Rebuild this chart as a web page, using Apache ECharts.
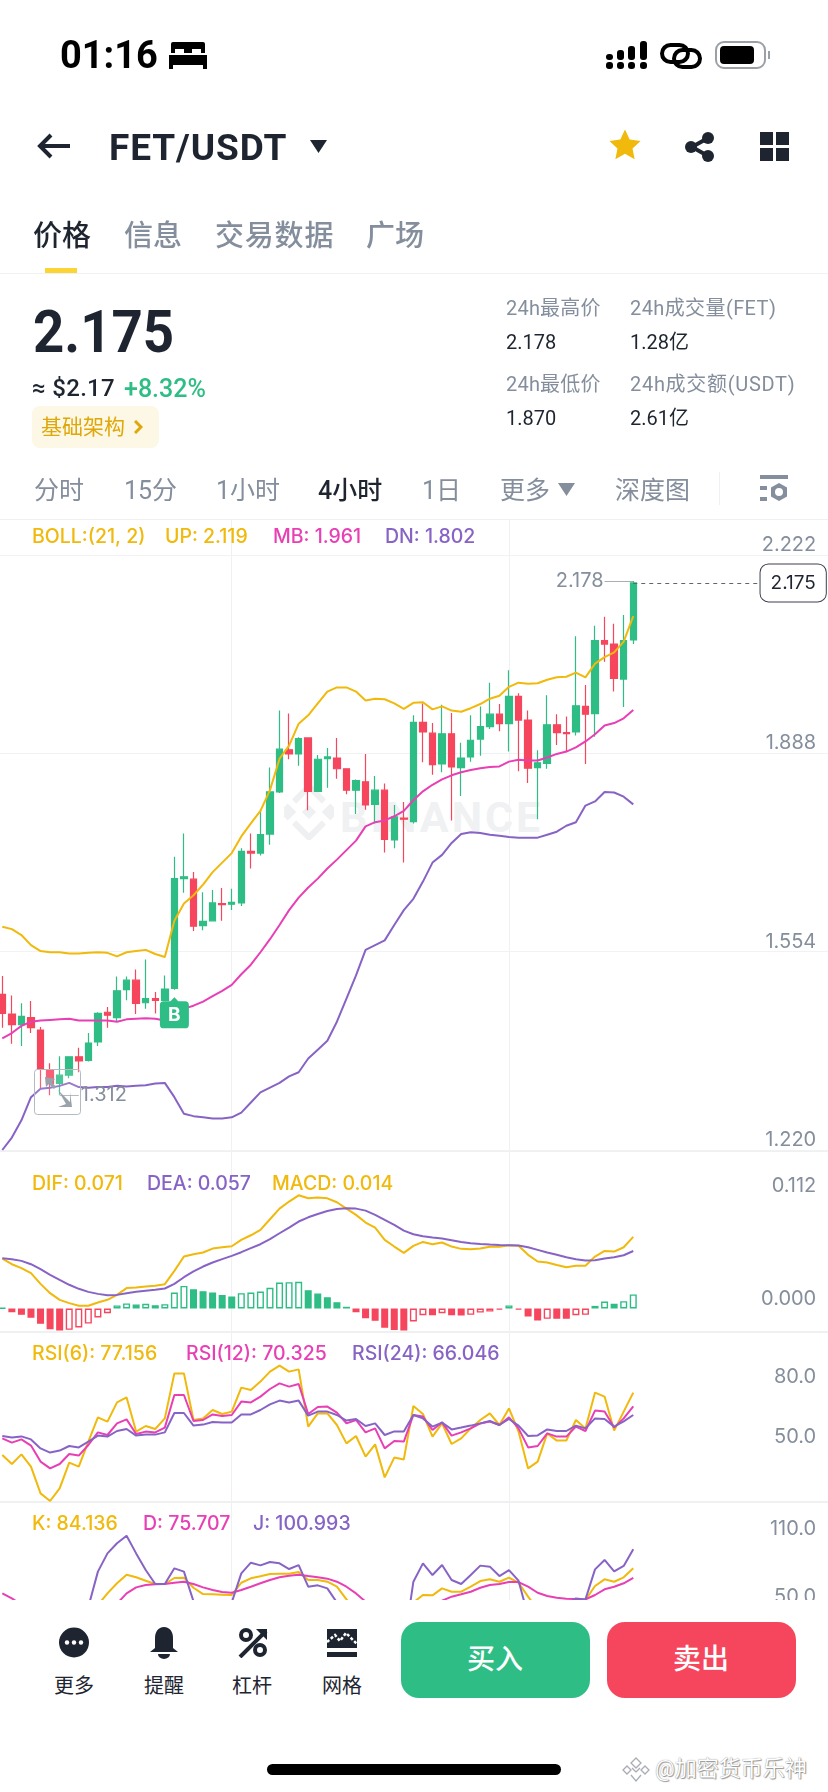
<!DOCTYPE html>
<html lang="zh">
<head>
<meta charset="UTF-8">
<title>FET/USDT</title>
<script src="https://cdn.jsdelivr.net/npm/echarts@6/dist/echarts.min.js"></script>
<style>
html,body{margin:0;padding:0;background:#fff;width:828px;height:1792px;overflow:hidden;font-family:Roboto,"Noto Sans CJK SC",sans-serif;color:#1e2530}
.t{position:absolute;white-space:nowrap;line-height:1;transform:translateY(-50%)}
.c{transform:translate(-50%,-50%)}
.g{color:#848e9c}
svg{position:absolute;display:block}
#main{position:absolute;left:0;top:0;width:828px;height:1600px;z-index:1}
.ui{position:absolute;z-index:2}
</style>
</head>
<body>
<!-- watermark sits under the transparent canvas -->
<svg style="left:284px;top:780px" width="50" height="60" viewBox="0 0 50 60"><g fill="#eef0f1" transform="translate(25 32) rotate(45)"><rect x="-5" y="-5" width="10" height="10"/><path d="M-21 -21h24v6h-18v18h-6zM21 21h-24v-6h18v-18h6z"/><rect x="9" y="-21" width="12" height="12" /><rect x="-21" y="9" width="12" height="12"/></g></svg>
<div class="t" style="left:340px;top:817px;font-size:43px;font-weight:700;color:#f0f1f2;letter-spacing:3px">BINANCE</div>

<div id="main"></div>

<!-- status bar -->
<div class="t ui" style="left:60px;top:55px;font-size:38px;font-weight:700;color:#000">01:16</div>
<svg class="ui" style="left:169px;top:42px" width="38" height="27" viewBox="0 0 38 27"><path d="M4 0h30a2 2 0 0 1 2 2v9h-4V7h-9v4H15V7H6v4H2V2a2 2 0 0 1 2-2zM0 13h38v14h-4v-4H4v4H0z" fill="#000"/></svg>
<svg class="ui" style="left:606px;top:41px" width="42" height="28" viewBox="0 0 42 28" fill="#000"><rect x="0" y="13" width="7" height="6" rx="3"/><rect x="0" y="21" width="7" height="7" rx="3"/><rect x="11" y="9" width="7" height="10" rx="3"/><rect x="11" y="21" width="7" height="7" rx="3"/><rect x="22" y="5" width="7" height="14" rx="3"/><rect x="22" y="21" width="7" height="7" rx="3"/><rect x="34" y="0" width="7" height="19" rx="3"/><rect x="34" y="21" width="7" height="7" rx="3"/></svg>
<svg class="ui" style="left:660px;top:43px" width="42" height="26" viewBox="0 0 42 26" fill="none" stroke="#000" stroke-width="4"><rect x="2" y="2" width="26" height="17" rx="8.5"/><rect x="14" y="7" width="26" height="17" rx="8.5"/></svg>
<svg class="ui" style="left:715px;top:41px" width="56" height="28" viewBox="0 0 56 28"><rect x="1" y="1" width="49" height="26" rx="8" fill="none" stroke="#9aa0a6" stroke-width="2"/><rect x="5" y="5" width="34" height="18" rx="4" fill="#000"/><rect x="53" y="10" width="2" height="8" fill="#9aa0a6"/></svg>

<!-- title row -->
<svg class="ui" style="left:37px;top:133px" width="34" height="26" viewBox="0 0 34 26" fill="none" stroke="#1e2530" stroke-width="4"><path d="M33 13H4M14 2L3 13l11 11"/></svg>
<div class="t ui" style="left:109px;top:147px;font-size:37px;font-weight:700;letter-spacing:.9px">FET/USDT</div>
<svg class="ui" style="left:310px;top:140px" width="17" height="13" viewBox="0 0 17 13"><path d="M0 0h17L8.500 13z" fill="#1e2530"/></svg>
<svg class="ui" style="left:608px;top:128px" width="34" height="34" viewBox="0 0 24 24"><path d="M12 1l3.300 7.200 7.700.9-5.700 5.300 1.500 7.600L12 18.200 5.200 22l1.500-7.600L1 9.100l7.700-.9z" fill="#f0b90b"/></svg>
<svg class="ui" style="left:684px;top:131px" width="32" height="32" viewBox="0 0 32 32"><path d="M24 7L8 16l16 9" stroke="#1e2530" stroke-width="4" fill="none"/><circle cx="24" cy="7" r="6" fill="#1e2530"/><circle cx="7" cy="16" r="6" fill="#1e2530"/><circle cx="24" cy="25" r="6" fill="#1e2530"/></svg>
<svg class="ui" style="left:760px;top:132px" width="29" height="29" viewBox="0 0 29 29" fill="#1e2530"><rect width="13" height="13"/><rect x="16" width="13" height="13"/><rect y="16" width="13" height="13"/><rect x="16" y="16" width="13" height="13"/></svg>

<!-- tabs -->
<div class="t ui" style="left:33px;top:236px;font-size:29px;font-weight:500">价格</div>
<div class="t ui g" style="left:124px;top:236px;font-size:29px;font-weight:500">信息</div>
<div class="t ui g" style="left:215px;top:236px;font-size:29px;font-weight:500;letter-spacing:.8px">交易数据</div>
<div class="t ui g" style="left:366px;top:236px;font-size:29px;font-weight:500">广场</div>
<div class="ui" style="left:45px;top:268px;width:32px;height:5px;background:#fcd535"></div>
<div class="ui" style="left:0;top:273px;width:828px;height:1px;background:#f0f1f2"></div>

<!-- price block -->
<div class="t ui" style="left:33px;top:332px;font-size:60px;font-weight:700;transform:translateY(-50%) scaleX(.91);transform-origin:left center">2.175</div>
<div class="t ui" style="left:32px;top:388px;font-size:24px;font-weight:500;letter-spacing:.3px">≈ $2.17</div>
<div class="t ui" style="left:124px;top:388px;font-size:25px;font-weight:500;color:#2ebd85">+8.32%</div>
<div class="ui" style="left:32px;top:406px;width:127px;height:42px;border-radius:8px;background:#fdf7e5"></div>
<div class="t ui" style="left:41px;top:427px;font-size:21px;color:#dfa80a">基础架构</div>
<svg class="ui" style="left:134px;top:420px" width="9" height="14" viewBox="0 0 9 14" fill="none" stroke="#dfa80a" stroke-width="3"><path d="M1 1l6 6-6 6"/></svg>
<div class="t ui g" style="left:506px;top:308px;font-size:20px;letter-spacing:.2px">24h最高价</div>
<div class="t ui g" style="left:630px;top:308px;font-size:20px;letter-spacing:.4px">24h成交量(FET)</div>
<div class="t ui" style="left:506px;top:342px;font-size:20px">2.178</div>
<div class="t ui" style="left:630px;top:342px;font-size:20px">1.28亿</div>
<div class="t ui g" style="left:506px;top:384px;font-size:20px;letter-spacing:.2px">24h最低价</div>
<div class="t ui g" style="left:630px;top:384px;font-size:20px;letter-spacing:.7px">24h成交额(USDT)</div>
<div class="t ui" style="left:506px;top:418px;font-size:20px">1.870</div>
<div class="t ui" style="left:630px;top:418px;font-size:20px">2.61亿</div>

<!-- interval row -->
<div class="t ui g" style="left:34px;top:490px;font-size:25px">分时</div>
<div class="t ui g" style="left:124px;top:490px;font-size:25px">15分</div>
<div class="t ui g" style="left:216px;top:490px;font-size:25px">1小时</div>
<div class="t ui" style="left:318px;top:490px;font-size:25px;font-weight:500">4小时</div>
<div class="t ui g" style="left:422px;top:490px;font-size:25px">1日</div>
<div class="t ui g" style="left:500px;top:490px;font-size:25px">更多</div>
<svg class="ui" style="left:558px;top:483px" width="17" height="13" viewBox="0 0 17 13"><path d="M0 0h17L8.500 13z" fill="#848e9c"/></svg>
<div class="t ui g" style="left:615px;top:490px;font-size:25px">深度图</div>
<div class="ui" style="left:719px;top:472px;width:1px;height:33px;background:#eef0f2"></div>
<svg class="ui" style="left:760px;top:475px" width="28" height="28" viewBox="0 0 28 28" fill="#848e9c"><rect width="28" height="4"/><rect y="11" width="7" height="4"/><rect y="22" width="7" height="4"/><path d="M19 8l8 4.500v9L19 26l-8-4.500v-9zM19 13a4 4 0 1 0 0 8 4 4 0 0 0 0-8z" fill-rule="evenodd"/></svg>

<!-- bottom bar -->
<svg class="ui" style="left:59px;top:1627px" width="30" height="31" viewBox="0 0 30 31"><circle cx="15" cy="15.500" r="15" fill="#1e2530"/><circle cx="8" cy="15.500" r="2.200" fill="#fff"/><circle cx="15" cy="15.500" r="2.200" fill="#fff"/><circle cx="22" cy="15.500" r="2.200" fill="#fff"/></svg>
<svg class="ui" style="left:149px;top:1627px" width="30" height="32" viewBox="0 0 30 32" fill="#1e2530"><path d="M15 0c6 0 9 5 9 11v10l5 4H1l5-4V11C6 5 9 0 15 0z"/><path d="M9 27h12a6 5 0 0 1-12 0z"/></svg>
<svg class="ui" style="left:238px;top:1627px" width="30" height="31" viewBox="0 0 30 31" fill="none" stroke="#1e2530"><circle cx="8" cy="8" r="5" stroke-width="4"/><circle cx="22" cy="23" r="5" stroke-width="4"/><path d="M2 30L28 4" stroke-width="4"/><path d="M18 2h11v11z" fill="#1e2530" stroke="none"/></svg>
<svg class="ui" style="left:327px;top:1629px" width="30" height="28" viewBox="0 0 30 28" fill="#1e2530"><path d="M0 0h30v19H0z"/><path d="M0 13l8-7 5 6 6-8 11 11" fill="none" stroke="#fff" stroke-width="2.500" stroke-dasharray="3 2"/><rect y="23" width="30" height="5"/></svg>
<div class="t c ui" style="left:74px;top:1686px;font-size:20px">更多</div>
<div class="t c ui" style="left:164px;top:1686px;font-size:20px">提醒</div>
<div class="t c ui" style="left:252px;top:1686px;font-size:20px">杠杆</div>
<div class="t c ui" style="left:342px;top:1686px;font-size:20px">网格</div>
<div class="ui" style="left:401px;top:1622px;width:189px;height:76px;border-radius:18px;background:#2ebd85"></div>
<div class="ui" style="left:607px;top:1622px;width:189px;height:76px;border-radius:18px;background:#f6465d"></div>
<div class="t c ui" style="left:495px;top:1660px;font-size:28px;font-weight:500;color:#fff">买入</div>
<div class="t c ui" style="left:701px;top:1660px;font-size:28px;font-weight:500;color:#fff">卖出</div>
<div class="ui" style="left:267px;top:1764px;width:294px;height:11px;border-radius:6px;background:#000"></div>
<svg class="ui" style="left:622px;top:1757px" width="28" height="26" viewBox="0 0 28 26" fill="none" stroke="#a9adb3" stroke-width="1.300"><path d="M14 1l5 5-5 5-5-5zM5 9l4 4-4 4-4-4zM23 9l4 4-4 4-4-4zM14 15l4-4M14 15l-4-4M9 18l5 6 5-6"/></svg>
<div class="t ui" style="left:655px;top:1769px;font-size:22px;color:#fff;text-shadow:0 0 1px #777,1px 1px 1px #999">@加密货币乐神</div>

<script>
var slots = 87; // room on the right of the last candle
var categories = Array.from({length: slots}, function (_, i) { return String(i); });

var opens = [1.482,1.449,1.431,1.443,1.422,1.355,1.332,1.346,1.377,1.371,1.402,1.452,1.443,1.490,1.506,1.468,1.475,1.472,1.492,1.677,1.676,1.598,1.606,1.635,1.634,1.636,1.723,1.720,1.752,1.823,1.894,1.887,1.914,1.824,1.879,1.880,1.862,1.826,1.840,1.802,1.826,1.742,1.779,1.773,1.940,1.922,1.870,1.921,1.864,1.882,1.912,1.933,1.954,1.938,1.984,1.944,1.864,1.871,1.936,1.923,1.924,1.967,1.955,2.078,2.072,2.013,2.079];
var closes = [1.450,1.431,1.445,1.426,1.356,1.332,1.346,1.377,1.370,1.400,1.450,1.447,1.488,1.506,1.467,1.475,1.472,1.491,1.677,1.680,1.597,1.605,1.636,1.633,1.637,1.723,1.720,1.751,1.823,1.895,1.887,1.913,1.824,1.878,1.882,1.862,1.826,1.842,1.801,1.826,1.743,1.781,1.777,1.940,1.924,1.869,1.921,1.865,1.880,1.910,1.933,1.954,1.938,1.984,1.944,1.863,1.872,1.936,1.923,1.921,1.968,1.954,2.078,2.072,2.014,2.078,2.175];
var lows = [1.426,1.399,1.395,1.417,1.323,1.312,1.313,1.341,1.351,1.369,1.395,1.426,1.436,1.472,1.449,1.458,1.450,1.472,1.490,1.653,1.589,1.590,1.606,1.606,1.624,1.631,1.694,1.716,1.734,1.821,1.878,1.867,1.792,1.823,1.830,1.845,1.819,1.786,1.793,1.770,1.721,1.728,1.704,1.770,1.873,1.852,1.856,1.775,1.816,1.874,1.884,1.929,1.925,1.891,1.858,1.838,1.777,1.862,1.902,1.890,1.918,1.870,1.916,2.042,1.992,1.966,2.072];
var highs = [1.513,1.480,1.467,1.471,1.427,1.366,1.378,1.378,1.392,1.417,1.452,1.461,1.512,1.512,1.524,1.541,1.486,1.514,1.714,1.753,1.688,1.654,1.658,1.661,1.660,1.728,1.753,1.794,1.864,1.960,1.955,1.915,1.914,1.885,1.897,1.914,1.862,1.844,1.887,1.850,1.837,1.801,1.806,1.952,1.972,1.939,1.970,1.956,1.906,1.952,1.967,2.007,1.971,2.028,1.989,1.960,1.893,1.986,1.954,1.950,2.085,2.003,2.103,2.118,2.106,2.121,2.178];

var bollUp = [1.596,1.592,1.582,1.565,1.555,1.553,1.553,1.551,1.551,1.552,1.553,1.552,1.546,1.553,1.555,1.557,1.550,1.545,1.606,1.635,1.649,1.667,1.688,1.704,1.720,1.748,1.770,1.791,1.826,1.879,1.901,1.938,1.952,1.972,1.992,1.999,1.999,1.992,1.977,1.980,1.979,1.972,1.963,1.973,1.974,1.962,1.967,1.960,1.958,1.964,1.971,1.980,1.985,2.000,2.007,2.005,2.006,2.012,2.016,2.017,2.024,2.016,2.039,2.050,2.058,2.076,2.119];
var bollMb = [1.408,1.417,1.429,1.436,1.438,1.439,1.440,1.441,1.438,1.438,1.438,1.438,1.436,1.440,1.441,1.442,1.441,1.438,1.446,1.458,1.463,1.470,1.479,1.488,1.498,1.516,1.532,1.553,1.575,1.599,1.624,1.645,1.662,1.677,1.694,1.709,1.725,1.741,1.765,1.772,1.775,1.782,1.791,1.809,1.824,1.835,1.844,1.851,1.856,1.860,1.863,1.865,1.866,1.874,1.877,1.876,1.876,1.881,1.887,1.891,1.898,1.908,1.920,1.935,1.939,1.947,1.961];
var bollDn = [1.220,1.241,1.270,1.309,1.323,1.325,1.328,1.333,1.326,1.325,1.326,1.326,1.328,1.327,1.328,1.329,1.332,1.333,1.309,1.281,1.277,1.275,1.273,1.273,1.275,1.283,1.300,1.317,1.325,1.333,1.344,1.351,1.374,1.389,1.404,1.436,1.475,1.514,1.557,1.565,1.573,1.599,1.624,1.643,1.672,1.704,1.717,1.737,1.752,1.755,1.754,1.751,1.749,1.747,1.746,1.746,1.746,1.751,1.756,1.766,1.772,1.800,1.807,1.823,1.822,1.815,1.802];

var dif = [0.0495,0.0439,0.0400,0.0350,0.0244,0.0152,0.0086,0.0053,0.0027,0.0027,0.0060,0.0086,0.0135,0.0202,0.0208,0.0218,0.0225,0.0241,0.0373,0.0515,0.0538,0.0555,0.0594,0.0607,0.0617,0.0680,0.0726,0.0779,0.0885,0.0990,0.1060,0.1122,0.1092,0.1099,0.1092,0.1053,0.0990,0.0928,0.0852,0.0802,0.0680,0.0614,0.0551,0.0621,0.0660,0.0637,0.0654,0.0614,0.0591,0.0588,0.0594,0.0611,0.0611,0.0627,0.0621,0.0532,0.0466,0.0456,0.0432,0.0409,0.0423,0.0423,0.0515,0.0571,0.0564,0.0607,0.0710];
var dea = [0.0499,0.0489,0.0472,0.0439,0.0390,0.0334,0.0284,0.0235,0.0195,0.0165,0.0145,0.0132,0.0135,0.0152,0.0165,0.0175,0.0185,0.0198,0.0244,0.0310,0.0367,0.0416,0.0456,0.0489,0.0522,0.0558,0.0598,0.0637,0.0687,0.0746,0.0802,0.0862,0.0904,0.0937,0.0967,0.0987,0.0994,0.0990,0.0970,0.0928,0.0878,0.0829,0.0772,0.0736,0.0716,0.0703,0.0693,0.0677,0.0660,0.0647,0.0640,0.0634,0.0630,0.0627,0.0624,0.0607,0.0581,0.0555,0.0532,0.0508,0.0489,0.0475,0.0479,0.0495,0.0508,0.0528,0.0570];
var macd = [0.0005,-0.0036,-0.0063,-0.0092,-0.0152,-0.0205,-0.0218,-0.0211,-0.0188,-0.0149,-0.0089,-0.0046,0.0030,0.0050,0.0040,0.0046,0.0033,0.0043,0.0158,0.0224,0.0191,0.0172,0.0158,0.0135,0.0119,0.0152,0.0158,0.0168,0.0205,0.0257,0.0261,0.0264,0.0182,0.0149,0.0112,0.0063,0.0017,-0.0036,-0.0096,-0.0122,-0.0191,-0.0214,-0.0218,-0.0129,-0.0066,-0.0066,-0.0046,-0.0066,-0.0069,-0.0063,-0.0040,-0.0030,-0.0013,0.0030,-0.0013,-0.0079,-0.0119,-0.0102,-0.0102,-0.0102,-0.0066,-0.0063,0.0026,0.0069,0.0046,0.0073,0.0140];

var rsi6 = [46.0,41.5,46.3,40.2,26.8,23.0,29.3,42.2,40.2,52.7,64.8,62.7,72.3,74.8,57.7,60.5,59.0,64.3,86.8,86.8,63.5,64.3,68.5,66.5,67.7,79.7,78.5,82.7,87.7,90.7,87.7,88.8,60.2,66.8,66.8,61.0,51.8,55.5,45.2,51.3,34.8,44.7,43.8,70.5,66.5,55.2,61.8,51.5,54.3,59.3,63.5,66.8,61.0,69.3,57.7,39.3,42.7,56.8,53.2,53.2,63.5,59.3,77.2,75.2,58.2,67.7,77.2];
var rsi12 = [54.3,52.2,53.8,50.7,42.7,39.3,41.5,46.5,45.7,51.0,57.3,56.0,61.8,63.8,56.5,57.7,57.3,59.7,76.0,76.0,63.0,63.5,66.3,65.5,66.0,72.7,72.3,75.2,79.0,81.8,80.2,81.5,66.5,70.0,70.2,67.2,61.8,63.5,57.3,59.3,49.3,53.0,52.7,66.0,65.2,58.5,62.3,55.7,57.3,59.3,61.8,62.7,61.0,64.8,59.3,49.8,50.5,56.8,55.2,55.2,60.2,58.0,68.2,67.7,59.7,64.3,70.3];
var rsi24 = [55.5,54.7,55.3,53.8,49.3,47.2,48.2,50.5,49.8,52.7,55.7,55.2,58.0,59.0,55.7,56.3,56.2,57.3,67.0,67.0,60.7,61.2,62.5,62.2,62.3,66.3,66.3,68.5,71.3,73.2,72.3,73.2,65.7,67.7,67.7,66.0,63.2,64.0,60.5,61.8,56.0,57.8,57.7,66.0,64.3,60.2,62.2,58.8,59.7,60.7,61.8,63.0,61.0,64.0,60.7,55.5,55.8,58.8,58.0,58.0,60.7,59.3,64.3,64.0,60.2,62.8,66.0];

// the KDJ pane is cut off by the bottom bar, values below about 56 are guessed
var kdjK = [50,45,40,35,30,25,25,30,33,40,51.8,62.0,70.9,78.5,76.2,73.2,70.3,70.3,75.6,75.9,67.0,61.4,61.2,60.9,60.6,71.4,75.3,77.1,79.1,79.4,79.4,80.9,73.8,73.8,72.3,67.9,56.7,48,40,38,30,30,33,54,60.6,60.3,66.4,63.5,63.5,67.9,72.9,74.4,72.3,75.9,71.4,59.1,48,50,52,54,55,56.2,68.5,74.4,72.3,76.2,84.1];
var kdjD = [62.0,57.6,52,47,42,38,34,33,33,35,38,44,53,62.0,67.3,69.4,70.0,70.3,71.4,72.3,70.3,67.3,65.0,63.2,62.6,65.0,67.9,70.9,73.8,76.2,77.6,78.5,77.3,76.2,75.0,72.3,67.9,62.0,54.7,48,42,38,36,40,46,50,55.6,59.1,61.2,63.5,67.0,69.4,70.3,72.0,72.0,67.9,62.6,59.7,58.2,57.3,57.0,56.7,60.6,65.6,67.9,70.9,75.7];
var kdjJ = [40,35,28,18,8,5,12,25,35,50,81.2,97.3,106.2,112.9,97.3,82.6,70.3,70.3,84.1,81.2,55,45,40,42,54,79.7,89.1,86.7,89.7,88.5,83.5,87.0,67.9,69.1,66.4,54,42,38,30,35,25,30,15,72.3,88.5,78.2,87.0,73.8,70.3,78.2,86.5,85.6,77.3,82.6,73.2,42,30,42,40,52,57.6,56.7,83.2,91.5,81.5,86.2,101.0];

var priceTicks = [1.220,1.554,1.888,2.222];
var macdTicks = [0,0.112];
var rsiTicks = [50,80];
var kdjTicks = [50,110];

var lastPrice = 2.175, highPrice = 2.178, lowPrice = 1.312;

var YELLOW = '#f0b90b', PINK = '#e83fb5', PURPLE = '#8763c5', UP = '#2ebd85', DOWN = '#f6465d';
var GRAY = '#848e9c', LINE = '#f1f2f4';
var FONT = 'Inter, "Noto Sans CJK SC", sans-serif';

var chart = echarts.init(document.getElementById('main'));

// band is 9.56px wide, left edge is off canvas so candle 0 sits at x=2.3
var gridLeft = -2.48, gridWidth = slots * 9.56;
var panes = [
    {top: 519, height: 631, min: 1.22, max: 2.2826, ticks: priceTicks, digits: 3, split: true},
    {top: 1150, height: 181, min: -0.0223, max: 0.1571, ticks: macdTicks, digits: 3},
    {top: 1331, height: 170, min: 23, max: 108, ticks: rsiTicks, digits: 1},
    {top: 1501, height: 139, min: 20.9, max: 143.5, ticks: kdjTicks, digits: 1}
];

function line(name, data, color, pane, extra) {
    return Object.assign({
        name: name, type: 'line', data: data, xAxisIndex: pane, yAxisIndex: pane,
        showSymbol: false, silent: true, z: 3,
        lineStyle: {color: color, width: 2}
    }, extra || {});
}

function vlines() {
    return {
        markLine: {
            silent: true, symbol: 'none', z: 1, animation: false,
            label: {show: false},
            lineStyle: {color: '#f0f1f3', width: 1, type: 'solid'},
            data: [{xAxis: 24}, {xAxis: 53}]
        }
    };
}

function legend(x, y, text, color) {
    return {
        type: 'text', left: x, top: y - 10, z: 10, silent: true,
        style: {text: text, fill: color, font: '500 19.5px ' + FONT}
    };
}

function sep(y, h) {
    return {type: 'rect', shape: {x: 0, y: y, width: 828, height: h}, z: 0, silent: true, style: {fill: '#eff0f2'}};
}

var macdBars = macd.map(function (v, i) {
    var color = v >= 0 ? UP : DOWN;
    var hollow = i > 0 && v > macd[i - 1];
    return {value: v, itemStyle: {color: hollow ? '#fff' : color, borderColor: color, borderWidth: 1.4}};
});

var candles = opens.map(function (o, i) { return [o, closes[i], lows[i], highs[i]]; });

var option = {
    animation: false,
    textStyle: {fontFamily: FONT},
    grid: panes.map(function (p) {
        // v6 squeezes grids back into the canvas unless told not to
        return {left: gridLeft, width: gridWidth, top: p.top, height: p.height, outerBoundsMode: 'none'};
    }),
    xAxis: panes.map(function (p, i) {
        return {type: 'category', gridIndex: i, data: categories, show: false};
    }),
    yAxis: panes.map(function (p, i) {
        return {
            type: 'value', gridIndex: i, position: 'right', min: p.min, max: p.max,
            axisLine: {show: false},
            axisTick: {show: false, customValues: p.ticks},
            splitLine: {show: !!p.split, lineStyle: {color: LINE, width: 1}},
            axisLabel: {
                inside: true, margin: 13, color: GRAY, fontSize: 20, fontFamily: FONT,
                verticalAlign: 'bottom', customValues: p.ticks, padding: [0, 0, 0, 0],
                showMinLabel: true, showMaxLabel: true,
                formatter: function (v) { return v.toFixed(p.digits); }
            }
        };
    }),
    series: [
        {
            name: 'candle', type: 'candlestick', data: candles, xAxisIndex: 0, yAxisIndex: 0,
            barWidth: 7, silent: true, z: 2,
            itemStyle: {color: UP, color0: DOWN, borderColor: UP, borderColor0: DOWN, borderWidth: 1.2},
            markLine: {
                silent: true, symbol: 'none', animation: false, z: 6,
                data: [
                    [
                        {coord: [66, lastPrice], lineStyle: {color: '#5e6673', type: [4, 4], width: 1},
                            label: {
                                show: true, position: 'end', formatter: lastPrice.toFixed(3), distance: 3,
                                color: '#1e2530', fontSize: 19, fontFamily: FONT, backgroundColor: '#fff',
                                borderColor: '#3a414c', borderWidth: 1, borderRadius: 8, padding: [9, 10, 9, 10]
                            }},
                        {coord: [78.5, lastPrice]}
                    ],
                    [
                        {coord: [66, highPrice], lineStyle: {color: '#a9aeb6', type: 'solid', width: 1},
                            label: {show: true, position: 'end', formatter: highPrice.toFixed(3), color: GRAY, fontSize: 20, fontFamily: FONT, distance: 1}},
                        {coord: [62.6, highPrice]}
                    ],
                    [
                        {coord: [6, lowPrice], lineStyle: {color: '#a9aeb6', type: 'solid', width: 1},
                            label: {show: true, position: 'end', formatter: lowPrice.toFixed(3), color: GRAY, fontSize: 20, fontFamily: FONT, distance: 2}},
                        {coord: [8.4, lowPrice]}
                    ]
                ]
            },
            markPoint: {
                silent: true, animation: false, z: 7,
                data: [{
                    coord: [18, 1.451],
                    symbol: 'path://M4 4h7l4-4 4 4h7a4 4 0 0 1 4 4v20a4 4 0 0 1-4 4H4a4 4 0 0 1-4-4V8a4 4 0 0 1 4-4z',
                    symbolSize: [29, 31],
                    itemStyle: {color: UP},
                    label: {show: true, formatter: 'B', position: 'inside', offset: [0, 2], color: '#fff', fontSize: 19, fontWeight: 700, fontFamily: FONT}
                }]
            }
        },
        line('UP', bollUp, YELLOW, 0, vlines()),
        line('MB', bollMb, PINK, 0),
        line('DN', bollDn, PURPLE, 0),
        {
            name: 'MACD', type: 'bar', data: macdBars, xAxisIndex: 1, yAxisIndex: 1,
            barWidth: 7, silent: true, z: 2
        },
        line('DIF', dif, YELLOW, 1, vlines()),
        line('DEA', dea, PURPLE, 1),
        line('RSI6', rsi6, YELLOW, 2, vlines()),
        line('RSI12', rsi12, PINK, 2),
        line('RSI24', rsi24, PURPLE, 2),
        line('K', kdjK, YELLOW, 3, vlines()),
        line('D', kdjD, PINK, 3),
        line('J', kdjJ, PURPLE, 3)
    ],
    graphic: [
        sep(519, 1), sep(1150, 2), sep(1331, 2), sep(1501, 2),
        legend(32, 537, 'BOLL:(21, 2)', YELLOW),
        legend(165, 537, 'UP: 2.119', YELLOW),
        legend(273, 537, 'MB: 1.961', PINK),
        legend(385, 537, 'DN: 1.802', PURPLE),
        legend(32, 1184, 'DIF: 0.071', YELLOW),
        legend(147, 1184, 'DEA: 0.057', PURPLE),
        legend(272, 1184, 'MACD: 0.014', YELLOW),
        legend(32, 1354, 'RSI(6): 77.156', YELLOW),
        legend(186, 1354, 'RSI(12): 70.325', PINK),
        legend(352, 1354, 'RSI(24): 66.046', PURPLE),
        legend(32, 1524, 'K: 84.136', YELLOW),
        legend(143, 1524, 'D: 75.707', PINK),
        legend(253, 1524, 'J: 100.993', PURPLE),
        // replay box around the swing low
        {type: 'rect', shape: {x: 34.5, y: 1069.5, width: 46, height: 45, r: 3}, z: 8, silent: true,
            style: {fill: 'rgba(255,255,255,0.15)', stroke: '#b4bac2', lineWidth: 1}},
        {type: 'polygon', shape: {points: [[58, 1090], [70, 1102], [70, 1092], [72, 1107], [58, 1107], [66, 1104]]}, z: 8, silent: true,
            style: {fill: '#9aa2ac'}},
        {type: 'polygon', shape: {points: [[45, 1077], [55, 1079], [52, 1082], [56, 1087], [54, 1089], [49, 1084], [46, 1087]]}, z: 8, silent: true,
            style: {fill: '#9aa2ac'}}
    ]
};

chart.setOption(option);
</script>
</body>
</html>
